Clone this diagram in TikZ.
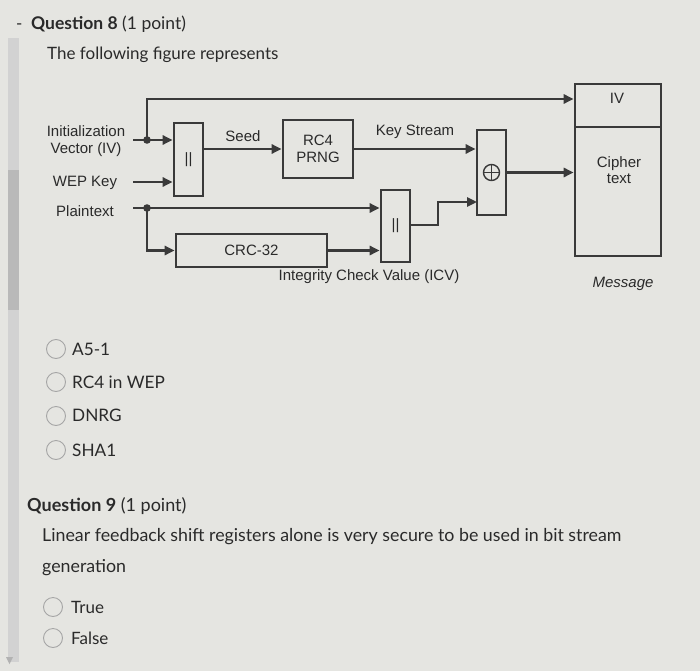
\documentclass[tikz,border=0pt]{standalone}
\usepackage{fontspec}
\setmainfont{Lato}
\newfontfamily\diagfont{Liberation Sans}
\usetikzlibrary{arrows.meta}
\definecolor{screen}{RGB}{229,229,225}
\definecolor{ink}{RGB}{42,42,42}
\definecolor{wire}{RGB}{58,58,58}
\begin{document}
\begin{tikzpicture}[x=1pt,y=-1pt,
        box/.style={draw=wire,line width=2.6pt,minimum width=#1},
        flow/.style={draw=wire,line width=2.6pt,-{Triangle[length=10pt,width=9pt]}},
        lbl/.style={font=\diagfont\fontsize{15}{16.5}\selectfont,text=ink,inner sep=0pt,align=center},
        quiz/.style={font=\fontsize{17}{20}\selectfont,text=ink,inner sep=0pt,anchor=base west},
        radio/.style={draw=gray!70,line width=0.9pt,circle,minimum size=19pt,inner sep=0pt}]
        \useasboundingbox (0,0) rectangle (700,671);
        \fill[screen] (0,0) rectangle (700,671);
        \fill[gray!35] (8,38) rectangle (19,662);
        \fill[gray!55] (8,170) rectangle (19,310);
        \fill[gray!60] (6,657) -- (13,657) -- (9.5,664) -- cycle;

        \node[quiz,anchor=base west] (dash) at (16,30) {-};
        \node[quiz,font=\fontsize{17.5}{20}\selectfont] (q8) at (31,30) {\textbf{Question 8} (1 point)};
        \node[quiz] (q8text) at (47,60) {The following figure represents};

        \node[box=29pt,minimum height=73pt] (cat1) at (188.5,159.5) {};
        \node[lbl] at (cat1.center) {||};
        \node[box=70pt,minimum height=58pt,lbl] (rc4) at (318,149) {RC4\\PRNG};
        \node[box=29pt,minimum height=85pt] (xorbox) at (491.5,172.5) {};
        \node[draw=wire,line width=1.4pt,circle,minimum size=16pt,inner sep=0pt] (xor) at (xorbox.center) {};
        \draw[wire,line width=1.4pt] (xor.north) -- (xor.south) (xor.west) -- (xor.east);
        \node[box=29pt,minimum height=72pt] (cat2) at (395.5,226) {};
        \node[lbl] at (cat2.center) {||};
        \node[box=151pt,minimum height=33pt,lbl] (crc) at (251.5,250.5) {CRC-32};
        \node[box=86pt,minimum height=43pt,lbl] (msgiv) at (618,105.5) {};
        \node[box=86pt,minimum height=129pt,lbl] (cipher) at (618,191.5) {};
        \node[lbl] at (617,98) {IV};
        \node[lbl] at (619,170) {Cipher\\text};

        \node[lbl] (ivlbl) at (86,141) {Initialization\\Vector (IV)};
        \node[lbl] (weplbl) at (85,183) {WEP Key};
        \node[lbl] (ptlbl) at (85,211) {Plaintext};
        \node[lbl] (seedlbl) at (243,136) {Seed};
        \node[lbl] (kslbl) at (415,132) {Key Stream};
        \node[lbl] (icvlbl) at (369,277) {Integrity Check Value (ICV)};
        \node[lbl,font=\diagfont\itshape\fontsize{15}{16.5}\selectfont] (msglbl) at (623,284) {Message};

        \coordinate (ivin) at (133,140);
        \coordinate (ivj) at (147,140);
        \coordinate (ivtop) at (147,99);
        \coordinate (wepin) at (133,182);
        \coordinate (ptin) at (133,208);
        \coordinate (ptj) at (147,208);
        \coordinate (icvbend) at (438,225);
        \coordinate (icvin) at (477,202);

        \draw[flow] (ivin) -- (cat1.west |- ivin);
        \draw[flow] (ivj) -- (ivtop) -- (ivtop -| msgiv.west);
        \draw[flow] (wepin) -- (cat1.west |- wepin);
        \draw[flow] (cat1.east |- rc4.west) -- (rc4.west);
        \draw[flow] (rc4.east) -- (xorbox.west |- rc4.east);
        \draw[flow] (xorbox.east) -- (cipher.west |- xorbox.east);
        \draw[flow] (ptin) -- (cat2.west |- ptin);
        \draw[flow] (ptj) |- (crc.west);
        \draw[flow] (crc.east) -- (cat2.west |- crc.east);
        \draw[flow] (cat2.east |- icvbend) -- (icvbend) |- (icvin);
        \fill[wire] (ivj) circle (3.8) (ptj) circle (3.8);

        \node[radio] (o1) at (56,349) {};
        \node[radio] (o2) at (56,382) {};
        \node[radio] (o3) at (56,416) {};
        \node[radio] (o4) at (56,450) {};
        \node[quiz,font=\fontsize{17.2}{20}\selectfont] at (72,355) {A5-1};
        \node[quiz,font=\fontsize{17.2}{20}\selectfont] at (72,388) {RC4 in WEP};
        \node[quiz,font=\fontsize{17.2}{20}\selectfont] at (72,421) {DNRG};
        \node[quiz,font=\fontsize{17.2}{20}\selectfont] at (72,456) {SHA1};

        \node[quiz,font=\fontsize{18}{20}\selectfont] (q9) at (27,511) {\textbf{Question 9} (1 point)};
        \node[quiz,font=\fontsize{17.8}{20}\selectfont] (q9text) at (42,541) {Linear feedback shift registers alone is very secure to be used in bit stream};
        \node[quiz,font=\fontsize{17.8}{20}\selectfont] (q9text2) at (42,572) {generation};
        \node[radio] (t1) at (53,607) {};
        \node[radio] (t2) at (53,638) {};
        \node[quiz] at (71,613) {True};
        \node[quiz] at (71,644) {False};
    \end{tikzpicture}
\end{document}
